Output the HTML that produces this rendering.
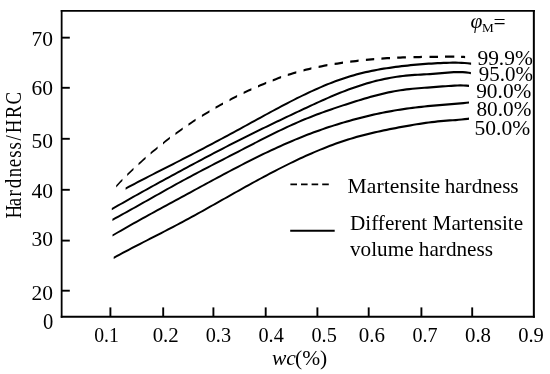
<!DOCTYPE html>
<html lang="en"><head><meta charset="utf-8"><title>Hardness vs carbon content</title>
<style>html,body{margin:0;padding:0;background:#fff}svg{display:block}</style></head>
<body>
<svg width="550" height="374" viewBox="0 0 550 374">
<rect width="550" height="374" fill="#fff"/>
<g fill="none" stroke="#000">
<path d="M61.65,317.85 V9.95" stroke-width="1.8"/>
<path d="M60.75,10.9 H534.85" stroke-width="1.9"/>
<path d="M533.85,9.95 V317.85" stroke-width="2"/>
<path d="M534.85,316.85 H60.75" stroke-width="2"/>
</g>
<g fill="none" stroke="#000" stroke-width="1.9">
<path d="M62,37.66 H69.8"/>
<path d="M62,87.8 H69.8"/>
<path d="M62,138.8 H69.8"/>
<path d="M62,189.8 H69.8"/>
<path d="M62,240.6 H69.8"/>
<path d="M62,290.7 H69.8"/>
<path d="M110.4,316.3 V307.4"/>
<path d="M163.2,316.3 V307.4"/>
<path d="M213.4,316.3 V307.4"/>
<path d="M265.7,316.3 V307.4"/>
<path d="M317.4,316.3 V307.4"/>
<path d="M368.7,316.3 V307.4"/>
<path d="M421.4,316.3 V307.4"/>
<path d="M472.2,316.3 V307.4"/>
</g>
<g fill="#000" stroke="none">
<path d="M125.6,187.44 L128.6,185.84 L131.6,184.26 L134.6,182.68 L137.6,181.11 L140.6,179.55 L143.6,178.00 L146.6,176.45 L149.6,174.91 L152.6,173.38 L155.6,171.85 L158.6,170.32 L161.6,168.79 L164.6,167.27 L167.6,165.74 L170.6,164.22 L173.6,162.69 L176.6,161.16 L179.6,159.63 L182.6,158.09 L185.6,156.55 L188.6,155.00 L191.6,153.45 L194.6,151.89 L197.6,150.33 L200.6,148.76 L203.6,147.19 L206.6,145.62 L209.6,144.04 L212.6,142.45 L215.6,140.86 L218.6,139.26 L221.6,137.66 L224.6,136.06 L227.6,134.45 L230.6,132.83 L233.6,131.21 L236.6,129.58 L239.6,127.94 L242.6,126.31 L245.6,124.66 L248.6,123.02 L251.6,121.37 L254.6,119.72 L257.6,118.07 L260.6,116.43 L263.6,114.79 L266.6,113.15 L269.6,111.52 L272.6,109.90 L275.6,108.29 L278.6,106.68 L281.6,105.09 L284.6,103.52 L287.6,101.95 L290.6,100.41 L293.6,98.88 L296.6,97.37 L299.6,95.88 L302.6,94.41 L305.6,92.96 L308.6,91.54 L311.6,90.15 L314.6,88.78 L317.6,87.44 L320.6,86.13 L323.6,84.85 L326.6,83.61 L329.6,82.40 L332.6,81.23 L335.6,80.10 L338.6,79.00 L341.6,77.95 L344.6,76.94 L347.6,75.97 L350.6,75.05 L353.6,74.18 L356.6,73.35 L359.6,72.56 L362.6,71.81 L365.6,71.11 L368.6,70.44 L371.6,69.81 L374.6,69.21 L377.6,68.65 L380.6,68.11 L383.6,67.61 L386.6,67.13 L389.6,66.68 L392.6,66.26 L395.6,65.85 L398.6,65.47 L401.6,65.11 L404.6,64.76 L407.6,64.43 L410.6,64.12 L413.6,63.83 L416.6,63.56 L419.6,63.30 L422.6,63.06 L425.6,62.83 L428.6,62.62 L431.6,62.43 L434.6,62.25 L437.6,62.09 L440.6,61.94 L443.6,61.81 L446.6,61.71 L449.6,61.63 L452.6,61.59 L455.6,61.59 L458.6,61.64 L461.6,61.75 L464.6,61.92 L467.6,62.16 L470.6,62.48 L471.1,62.54 L471.1,64.74 L470.6,64.68 L467.6,64.36 L464.6,64.12 L461.6,63.95 L458.6,63.84 L455.6,63.79 L452.6,63.79 L449.6,63.83 L446.6,63.91 L443.6,64.01 L440.6,64.14 L437.6,64.29 L434.6,64.45 L431.6,64.63 L428.6,64.82 L425.6,65.03 L422.6,65.26 L419.6,65.50 L416.6,65.76 L413.6,66.03 L410.6,66.32 L407.6,66.63 L404.6,66.96 L401.6,67.31 L398.6,67.67 L395.6,68.05 L392.6,68.46 L389.6,68.88 L386.6,69.33 L383.6,69.81 L380.6,70.31 L377.6,70.85 L374.6,71.41 L371.6,72.01 L368.6,72.64 L365.6,73.31 L362.6,74.01 L359.6,74.76 L356.6,75.55 L353.6,76.38 L350.6,77.25 L347.6,78.17 L344.6,79.14 L341.6,80.15 L338.6,81.20 L335.6,82.30 L332.6,83.43 L329.6,84.60 L326.6,85.81 L323.6,87.05 L320.6,88.33 L317.6,89.64 L314.6,90.98 L311.6,92.35 L308.6,93.74 L305.6,95.16 L302.6,96.61 L299.6,98.08 L296.6,99.57 L293.6,101.08 L290.6,102.61 L287.6,104.15 L284.6,105.72 L281.6,107.29 L278.6,108.88 L275.6,110.49 L272.6,112.10 L269.6,113.72 L266.6,115.35 L263.6,116.99 L260.6,118.63 L257.6,120.27 L254.6,121.92 L251.6,123.57 L248.6,125.22 L245.6,126.86 L242.6,128.51 L239.6,130.14 L236.6,131.78 L233.6,133.41 L230.6,135.03 L227.6,136.65 L224.6,138.26 L221.6,139.86 L218.6,141.46 L215.6,143.06 L212.6,144.65 L209.6,146.24 L206.6,147.82 L203.6,149.39 L200.6,150.96 L197.6,152.53 L194.6,154.09 L191.6,155.65 L188.6,157.20 L185.6,158.75 L182.6,160.29 L179.6,161.83 L176.6,163.36 L173.6,164.89 L170.6,166.42 L167.6,167.94 L164.6,169.47 L161.6,170.99 L158.6,172.52 L155.6,174.05 L152.6,175.58 L149.6,177.11 L146.6,178.65 L143.6,180.20 L140.6,181.75 L137.6,183.31 L134.6,184.88 L131.6,186.46 L128.6,188.04 L125.6,189.64Z"/>
<path d="M111.8,208.07 L114.8,206.34 L117.8,204.61 L120.8,202.90 L123.8,201.19 L126.8,199.48 L129.8,197.78 L132.8,196.09 L135.8,194.41 L138.8,192.73 L141.8,191.05 L144.8,189.38 L147.8,187.72 L150.8,186.06 L153.8,184.40 L156.8,182.75 L159.8,181.11 L162.8,179.47 L165.8,177.83 L168.8,176.19 L171.8,174.56 L174.8,172.94 L177.8,171.31 L180.8,169.69 L183.8,168.07 L186.8,166.46 L189.8,164.85 L192.8,163.24 L195.8,161.64 L198.8,160.04 L201.8,158.44 L204.8,156.85 L207.8,155.27 L210.8,153.69 L213.8,152.11 L216.8,150.55 L219.8,148.98 L222.8,147.43 L225.8,145.88 L228.8,144.34 L231.8,142.80 L234.8,141.27 L237.8,139.75 L240.8,138.24 L243.8,136.73 L246.8,135.24 L249.8,133.75 L252.8,132.26 L255.8,130.79 L258.8,129.32 L261.8,127.86 L264.8,126.40 L267.8,124.95 L270.8,123.50 L273.8,122.06 L276.8,120.62 L279.8,119.19 L282.8,117.76 L285.8,116.33 L288.8,114.91 L291.8,113.49 L294.8,112.07 L297.8,110.66 L300.8,109.25 L303.8,107.84 L306.8,106.43 L309.8,105.03 L312.8,103.64 L315.8,102.26 L318.8,100.89 L321.8,99.54 L324.8,98.21 L327.8,96.89 L330.8,95.59 L333.8,94.32 L336.8,93.07 L339.8,91.84 L342.8,90.65 L345.8,89.49 L348.8,88.35 L351.8,87.26 L354.8,86.20 L357.8,85.18 L360.8,84.19 L363.8,83.25 L366.8,82.34 L369.8,81.48 L372.8,80.66 L375.8,79.87 L378.8,79.14 L381.8,78.44 L384.8,77.80 L387.8,77.19 L390.8,76.64 L393.8,76.13 L396.8,75.67 L399.8,75.27 L402.8,74.91 L405.8,74.59 L408.8,74.32 L411.8,74.07 L414.8,73.86 L417.8,73.66 L420.8,73.47 L423.8,73.30 L426.8,73.13 L429.8,72.95 L432.8,72.76 L435.8,72.55 L438.8,72.32 L441.8,72.07 L444.8,71.79 L447.8,71.52 L450.8,71.28 L453.8,71.08 L456.8,70.96 L459.8,70.93 L462.8,71.03 L465.8,71.26 L468.8,71.65 L470.9,72.03 L470.9,74.23 L468.8,73.85 L465.8,73.46 L462.8,73.23 L459.8,73.13 L456.8,73.16 L453.8,73.28 L450.8,73.48 L447.8,73.72 L444.8,73.99 L441.8,74.27 L438.8,74.52 L435.8,74.75 L432.8,74.96 L429.8,75.15 L426.8,75.33 L423.8,75.50 L420.8,75.67 L417.8,75.86 L414.8,76.06 L411.8,76.27 L408.8,76.52 L405.8,76.79 L402.8,77.11 L399.8,77.47 L396.8,77.87 L393.8,78.33 L390.8,78.84 L387.8,79.39 L384.8,80.00 L381.8,80.64 L378.8,81.34 L375.8,82.07 L372.8,82.86 L369.8,83.68 L366.8,84.54 L363.8,85.45 L360.8,86.39 L357.8,87.38 L354.8,88.40 L351.8,89.46 L348.8,90.55 L345.8,91.69 L342.8,92.85 L339.8,94.04 L336.8,95.27 L333.8,96.52 L330.8,97.79 L327.8,99.09 L324.8,100.41 L321.8,101.74 L318.8,103.09 L315.8,104.46 L312.8,105.84 L309.8,107.23 L306.8,108.63 L303.8,110.04 L300.8,111.45 L297.8,112.86 L294.8,114.27 L291.8,115.69 L288.8,117.11 L285.8,118.53 L282.8,119.96 L279.8,121.39 L276.8,122.82 L273.8,124.26 L270.8,125.70 L267.8,127.15 L264.8,128.60 L261.8,130.06 L258.8,131.52 L255.8,132.99 L252.8,134.46 L249.8,135.95 L246.8,137.44 L243.8,138.93 L240.8,140.44 L237.8,141.95 L234.8,143.47 L231.8,145.00 L228.8,146.54 L225.8,148.08 L222.8,149.63 L219.8,151.18 L216.8,152.75 L213.8,154.31 L210.8,155.89 L207.8,157.47 L204.8,159.05 L201.8,160.64 L198.8,162.24 L195.8,163.84 L192.8,165.44 L189.8,167.05 L186.8,168.66 L183.8,170.27 L180.8,171.89 L177.8,173.51 L174.8,175.14 L171.8,176.76 L168.8,178.39 L165.8,180.03 L162.8,181.67 L159.8,183.31 L156.8,184.95 L153.8,186.60 L150.8,188.26 L147.8,189.92 L144.8,191.58 L141.8,193.25 L138.8,194.93 L135.8,196.61 L132.8,198.29 L129.8,199.98 L126.8,201.68 L123.8,203.39 L120.8,205.10 L117.8,206.81 L114.8,208.54 L111.8,210.27Z"/>
<path d="M112.4,218.71 L115.4,217.10 L118.4,215.47 L121.4,213.82 L124.4,212.17 L127.4,210.51 L130.4,208.84 L133.4,207.16 L136.4,205.48 L139.4,203.79 L142.4,202.10 L145.4,200.41 L148.4,198.71 L151.4,197.01 L154.4,195.32 L157.4,193.63 L160.4,191.93 L163.4,190.25 L166.4,188.57 L169.4,186.89 L172.4,185.22 L175.4,183.56 L178.4,181.91 L181.4,180.28 L184.4,178.65 L187.4,177.03 L190.4,175.43 L193.4,173.83 L196.4,172.24 L199.4,170.66 L202.4,169.08 L205.4,167.51 L208.4,165.95 L211.4,164.39 L214.4,162.84 L217.4,161.28 L220.4,159.74 L223.4,158.19 L226.4,156.64 L229.4,155.10 L232.4,153.55 L235.4,152.00 L238.4,150.45 L241.4,148.90 L244.4,147.35 L247.4,145.79 L250.4,144.24 L253.4,142.69 L256.4,141.15 L259.4,139.61 L262.4,138.07 L265.4,136.55 L268.4,135.04 L271.4,133.54 L274.4,132.06 L277.4,130.59 L280.4,129.14 L283.4,127.70 L286.4,126.29 L289.4,124.90 L292.4,123.54 L295.4,122.20 L298.4,120.89 L301.4,119.61 L304.4,118.35 L307.4,117.13 L310.4,115.93 L313.4,114.76 L316.4,113.61 L319.4,112.49 L322.4,111.38 L325.4,110.30 L328.4,109.24 L331.4,108.19 L334.4,107.16 L337.4,106.15 L340.4,105.15 L343.4,104.16 L346.4,103.19 L349.4,102.22 L352.4,101.27 L355.4,100.32 L358.4,99.39 L361.4,98.47 L364.4,97.58 L367.4,96.70 L370.4,95.85 L373.4,95.02 L376.4,94.22 L379.4,93.46 L382.4,92.72 L385.4,92.02 L388.4,91.36 L391.4,90.74 L394.4,90.17 L397.4,89.64 L400.4,89.15 L403.4,88.72 L406.4,88.33 L409.4,87.98 L412.4,87.67 L415.4,87.39 L418.4,87.13 L421.4,86.89 L424.4,86.67 L427.4,86.46 L430.4,86.25 L433.4,86.04 L436.4,85.83 L439.4,85.61 L442.4,85.37 L445.4,85.13 L448.4,84.90 L451.4,84.69 L454.4,84.53 L457.4,84.41 L460.4,84.36 L463.4,84.39 L466.4,84.51 L469.0,84.70 L469.0,86.90 L466.4,86.71 L463.4,86.59 L460.4,86.56 L457.4,86.61 L454.4,86.73 L451.4,86.89 L448.4,87.10 L445.4,87.33 L442.4,87.57 L439.4,87.81 L436.4,88.03 L433.4,88.24 L430.4,88.45 L427.4,88.66 L424.4,88.87 L421.4,89.09 L418.4,89.33 L415.4,89.59 L412.4,89.87 L409.4,90.18 L406.4,90.53 L403.4,90.92 L400.4,91.35 L397.4,91.84 L394.4,92.37 L391.4,92.94 L388.4,93.56 L385.4,94.22 L382.4,94.92 L379.4,95.66 L376.4,96.42 L373.4,97.22 L370.4,98.05 L367.4,98.90 L364.4,99.78 L361.4,100.67 L358.4,101.59 L355.4,102.52 L352.4,103.47 L349.4,104.42 L346.4,105.39 L343.4,106.36 L340.4,107.35 L337.4,108.35 L334.4,109.36 L331.4,110.39 L328.4,111.44 L325.4,112.50 L322.4,113.58 L319.4,114.69 L316.4,115.81 L313.4,116.96 L310.4,118.13 L307.4,119.33 L304.4,120.55 L301.4,121.81 L298.4,123.09 L295.4,124.40 L292.4,125.74 L289.4,127.10 L286.4,128.49 L283.4,129.90 L280.4,131.34 L277.4,132.79 L274.4,134.26 L271.4,135.74 L268.4,137.24 L265.4,138.75 L262.4,140.27 L259.4,141.81 L256.4,143.35 L253.4,144.89 L250.4,146.44 L247.4,147.99 L244.4,149.55 L241.4,151.10 L238.4,152.65 L235.4,154.20 L232.4,155.75 L229.4,157.30 L226.4,158.84 L223.4,160.39 L220.4,161.94 L217.4,163.48 L214.4,165.04 L211.4,166.59 L208.4,168.15 L205.4,169.71 L202.4,171.28 L199.4,172.86 L196.4,174.44 L193.4,176.03 L190.4,177.63 L187.4,179.23 L184.4,180.85 L181.4,182.48 L178.4,184.11 L175.4,185.76 L172.4,187.42 L169.4,189.09 L166.4,190.77 L163.4,192.45 L160.4,194.13 L157.4,195.83 L154.4,197.52 L151.4,199.21 L148.4,200.91 L145.4,202.61 L142.4,204.30 L139.4,205.99 L136.4,207.68 L133.4,209.36 L130.4,211.04 L127.4,212.71 L124.4,214.37 L121.4,216.02 L118.4,217.67 L115.4,219.30 L112.4,220.91Z"/>
<path d="M112.5,234.41 L115.5,232.65 L118.5,230.91 L121.5,229.18 L124.5,227.46 L127.5,225.75 L130.5,224.05 L133.5,222.36 L136.5,220.68 L139.5,219.01 L142.5,217.35 L145.5,215.69 L148.5,214.04 L151.5,212.39 L154.5,210.75 L157.5,209.12 L160.5,207.49 L163.5,205.85 L166.5,204.23 L169.5,202.60 L172.5,200.97 L175.5,199.35 L178.5,197.72 L181.5,196.09 L184.5,194.46 L187.5,192.82 L190.5,191.19 L193.5,189.55 L196.5,187.92 L199.5,186.29 L202.5,184.66 L205.5,183.03 L208.5,181.41 L211.5,179.78 L214.5,178.17 L217.5,176.56 L220.5,174.95 L223.5,173.35 L226.5,171.75 L229.5,170.17 L232.5,168.59 L235.5,167.02 L238.5,165.46 L241.5,163.91 L244.5,162.36 L247.5,160.83 L250.5,159.32 L253.5,157.81 L256.5,156.32 L259.5,154.84 L262.5,153.37 L265.5,151.92 L268.5,150.49 L271.5,149.07 L274.5,147.68 L277.5,146.29 L280.5,144.93 L283.5,143.59 L286.5,142.27 L289.5,140.96 L292.5,139.68 L295.5,138.42 L298.5,137.19 L301.5,135.98 L304.5,134.79 L307.5,133.62 L310.5,132.48 L313.5,131.37 L316.5,130.27 L319.5,129.20 L322.5,128.15 L325.5,127.12 L328.5,126.12 L331.5,125.13 L334.5,124.17 L337.5,123.23 L340.5,122.31 L343.5,121.41 L346.5,120.53 L349.5,119.68 L352.5,118.84 L355.5,118.02 L358.5,117.23 L361.5,116.45 L364.5,115.70 L367.5,114.97 L370.5,114.26 L373.5,113.57 L376.5,112.90 L379.5,112.26 L382.5,111.64 L385.5,111.05 L388.5,110.48 L391.5,109.93 L394.5,109.41 L397.5,108.91 L400.5,108.43 L403.5,107.98 L406.5,107.56 L409.5,107.16 L412.5,106.77 L415.5,106.41 L418.5,106.06 L421.5,105.73 L424.5,105.42 L427.5,105.12 L430.5,104.82 L433.5,104.54 L436.5,104.27 L439.5,104.01 L442.5,103.75 L445.5,103.49 L448.5,103.24 L451.5,102.99 L454.5,102.73 L457.5,102.47 L460.5,102.21 L463.5,101.94 L466.5,101.66 L469.0,101.42 L469.0,103.62 L466.5,103.86 L463.5,104.14 L460.5,104.41 L457.5,104.67 L454.5,104.93 L451.5,105.19 L448.5,105.44 L445.5,105.69 L442.5,105.95 L439.5,106.21 L436.5,106.47 L433.5,106.74 L430.5,107.02 L427.5,107.32 L424.5,107.62 L421.5,107.93 L418.5,108.26 L415.5,108.61 L412.5,108.97 L409.5,109.36 L406.5,109.76 L403.5,110.18 L400.5,110.63 L397.5,111.11 L394.5,111.61 L391.5,112.13 L388.5,112.68 L385.5,113.25 L382.5,113.84 L379.5,114.46 L376.5,115.10 L373.5,115.77 L370.5,116.46 L367.5,117.17 L364.5,117.90 L361.5,118.65 L358.5,119.43 L355.5,120.22 L352.5,121.04 L349.5,121.88 L346.5,122.73 L343.5,123.61 L340.5,124.51 L337.5,125.43 L334.5,126.37 L331.5,127.33 L328.5,128.32 L325.5,129.32 L322.5,130.35 L319.5,131.40 L316.5,132.47 L313.5,133.57 L310.5,134.68 L307.5,135.82 L304.5,136.99 L301.5,138.18 L298.5,139.39 L295.5,140.62 L292.5,141.88 L289.5,143.16 L286.5,144.47 L283.5,145.79 L280.5,147.13 L277.5,148.49 L274.5,149.88 L271.5,151.27 L268.5,152.69 L265.5,154.12 L262.5,155.57 L259.5,157.04 L256.5,158.52 L253.5,160.01 L250.5,161.52 L247.5,163.03 L244.5,164.56 L241.5,166.11 L238.5,167.66 L235.5,169.22 L232.5,170.79 L229.5,172.37 L226.5,173.95 L223.5,175.55 L220.5,177.15 L217.5,178.76 L214.5,180.37 L211.5,181.98 L208.5,183.61 L205.5,185.23 L202.5,186.86 L199.5,188.49 L196.5,190.12 L193.5,191.75 L190.5,193.39 L187.5,195.02 L184.5,196.66 L181.5,198.29 L178.5,199.92 L175.5,201.55 L172.5,203.17 L169.5,204.80 L166.5,206.43 L163.5,208.05 L160.5,209.69 L157.5,211.32 L154.5,212.95 L151.5,214.59 L148.5,216.24 L145.5,217.89 L142.5,219.55 L139.5,221.21 L136.5,222.88 L133.5,224.56 L130.5,226.25 L127.5,227.95 L124.5,229.66 L121.5,231.38 L118.5,233.11 L115.5,234.85 L112.5,236.61Z"/>
<path d="M113.7,256.72 L116.7,255.08 L119.7,253.46 L122.7,251.85 L125.7,250.26 L128.7,248.68 L131.7,247.11 L134.7,245.55 L137.7,244.00 L140.7,242.45 L143.7,240.91 L146.7,239.38 L149.7,237.84 L152.7,236.31 L155.7,234.78 L158.7,233.25 L161.7,231.71 L164.7,230.17 L167.7,228.62 L170.7,227.06 L173.7,225.50 L176.7,223.92 L179.7,222.33 L182.7,220.73 L185.7,219.11 L188.7,217.49 L191.7,215.85 L194.7,214.20 L197.7,212.55 L200.7,210.88 L203.7,209.21 L206.7,207.53 L209.7,205.85 L212.7,204.16 L215.7,202.47 L218.7,200.78 L221.7,199.08 L224.7,197.39 L227.7,195.70 L230.7,194.01 L233.7,192.32 L236.7,190.63 L239.7,188.95 L242.7,187.28 L245.7,185.61 L248.7,183.95 L251.7,182.29 L254.7,180.65 L257.7,179.02 L260.7,177.39 L263.7,175.78 L266.7,174.18 L269.7,172.59 L272.7,171.02 L275.7,169.46 L278.7,167.92 L281.7,166.39 L284.7,164.88 L287.7,163.39 L290.7,161.91 L293.7,160.46 L296.7,159.03 L299.7,157.62 L302.7,156.23 L305.7,154.86 L308.7,153.52 L311.7,152.20 L314.7,150.90 L317.7,149.64 L320.7,148.40 L323.7,147.18 L326.7,146.00 L329.7,144.84 L332.7,143.71 L335.7,142.62 L338.7,141.56 L341.7,140.52 L344.7,139.53 L347.7,138.56 L350.7,137.63 L353.7,136.73 L356.7,135.87 L359.7,135.04 L362.7,134.24 L365.7,133.47 L368.7,132.72 L371.7,132.00 L374.7,131.30 L377.7,130.63 L380.7,129.97 L383.7,129.33 L386.7,128.71 L389.7,128.10 L392.7,127.51 L395.7,126.93 L398.7,126.36 L401.7,125.80 L404.7,125.25 L407.7,124.71 L410.7,124.18 L413.7,123.67 L416.7,123.17 L419.7,122.70 L422.7,122.24 L425.7,121.81 L428.7,121.41 L431.7,121.03 L434.7,120.68 L437.7,120.36 L440.7,120.08 L443.7,119.83 L446.7,119.59 L449.7,119.37 L452.7,119.16 L455.7,118.93 L458.7,118.67 L461.7,118.39 L464.7,118.06 L467.7,117.68 L469.0,117.50 L469.0,119.70 L467.7,119.88 L464.7,120.26 L461.7,120.59 L458.7,120.87 L455.7,121.13 L452.7,121.36 L449.7,121.57 L446.7,121.79 L443.7,122.03 L440.7,122.28 L437.7,122.56 L434.7,122.88 L431.7,123.23 L428.7,123.61 L425.7,124.01 L422.7,124.44 L419.7,124.90 L416.7,125.37 L413.7,125.87 L410.7,126.38 L407.7,126.91 L404.7,127.45 L401.7,128.00 L398.7,128.56 L395.7,129.13 L392.7,129.71 L389.7,130.30 L386.7,130.91 L383.7,131.53 L380.7,132.17 L377.7,132.83 L374.7,133.50 L371.7,134.20 L368.7,134.92 L365.7,135.67 L362.7,136.44 L359.7,137.24 L356.7,138.07 L353.7,138.93 L350.7,139.83 L347.7,140.76 L344.7,141.73 L341.7,142.72 L338.7,143.76 L335.7,144.82 L332.7,145.91 L329.7,147.04 L326.7,148.20 L323.7,149.38 L320.7,150.60 L317.7,151.84 L314.7,153.10 L311.7,154.40 L308.7,155.72 L305.7,157.06 L302.7,158.43 L299.7,159.82 L296.7,161.23 L293.7,162.66 L290.7,164.11 L287.7,165.59 L284.7,167.08 L281.7,168.59 L278.7,170.12 L275.7,171.66 L272.7,173.22 L269.7,174.79 L266.7,176.38 L263.7,177.98 L260.7,179.59 L257.7,181.22 L254.7,182.85 L251.7,184.49 L248.7,186.15 L245.7,187.81 L242.7,189.48 L239.7,191.15 L236.7,192.83 L233.7,194.52 L230.7,196.21 L227.7,197.90 L224.7,199.59 L221.7,201.28 L218.7,202.98 L215.7,204.67 L212.7,206.36 L209.7,208.05 L206.7,209.73 L203.7,211.41 L200.7,213.08 L197.7,214.75 L194.7,216.40 L191.7,218.05 L188.7,219.69 L185.7,221.31 L182.7,222.93 L179.7,224.53 L176.7,226.12 L173.7,227.70 L170.7,229.26 L167.7,230.82 L164.7,232.37 L161.7,233.91 L158.7,235.45 L155.7,236.98 L152.7,238.51 L149.7,240.04 L146.7,241.58 L143.7,243.11 L140.7,244.65 L137.7,246.20 L134.7,247.75 L131.7,249.31 L128.7,250.88 L125.7,252.46 L122.7,254.05 L119.7,255.66 L116.7,257.28 L113.7,258.92Z"/>
</g>
<g fill="#000" stroke="none">
<path d="M116.2,185.14 L118.3,182.96 L120.3,180.81 L122.4,178.69 L122.4,180.94 L120.3,183.06 L118.3,185.21 L116.2,187.39Z"/>
<path d="M127.2,173.87 L129.3,171.80 L131.4,169.76 L133.5,167.75 L133.5,170.00 L131.4,172.01 L129.3,174.05 L127.2,176.12Z"/>
<path d="M138.5,163.07 L140.9,160.90 L143.2,158.77 L145.6,156.67 L145.6,158.92 L143.2,161.02 L140.9,163.15 L138.5,165.32Z"/>
<path d="M150.6,152.33 L152.9,150.35 L155.3,148.40 L157.6,146.48 L157.6,148.73 L155.3,150.65 L152.9,152.60 L150.6,154.58Z"/>
<path d="M163.0,142.14 L165.3,140.34 L167.6,138.56 L169.9,136.80 L169.9,139.05 L167.6,140.81 L165.3,142.59 L163.0,144.39Z"/>
<path d="M175.4,132.71 L177.8,130.94 L180.3,129.19 L182.7,127.47 L182.7,129.72 L180.3,131.44 L177.8,133.19 L175.4,134.96Z"/>
<path d="M188.4,123.54 L190.8,121.93 L193.2,120.34 L195.6,118.77 L195.6,121.02 L193.2,122.59 L190.8,124.18 L188.4,125.79Z"/>
<path d="M201.9,114.76 L204.4,113.19 L207.0,111.65 L209.5,110.13 L209.5,112.38 L207.0,113.90 L204.4,115.44 L201.9,117.01Z"/>
<path d="M215.5,106.62 L218.0,105.20 L220.5,103.80 L223.0,102.41 L223.0,104.66 L220.5,106.05 L218.0,107.45 L215.5,108.87Z"/>
<path d="M229.5,98.92 L232.0,97.60 L234.6,96.30 L237.1,95.02 L237.1,97.27 L234.6,98.55 L232.0,99.85 L229.5,101.17Z"/>
<path d="M243.6,91.82 L246.2,90.58 L248.8,89.36 L251.4,88.16 L251.4,90.41 L248.8,91.61 L246.2,92.83 L243.6,94.07Z"/>
<path d="M258.0,85.22 L260.7,84.04 L263.5,82.89 L266.2,81.77 L266.2,84.02 L263.5,85.14 L260.7,86.29 L258.0,87.47Z"/>
<path d="M272.7,79.21 L275.5,78.15 L278.3,77.12 L281.1,76.12 L281.1,78.37 L278.3,79.37 L275.5,80.40 L272.7,81.46Z"/>
<path d="M287.8,73.86 L290.6,72.96 L293.5,72.08 L296.3,71.24 L296.3,73.49 L293.5,74.33 L290.6,75.21 L287.8,76.11Z"/>
<path d="M303.5,69.26 L306.1,68.59 L308.8,67.94 L311.4,67.32 L311.4,69.57 L308.8,70.19 L306.1,70.84 L303.5,71.51Z"/>
<path d="M318.6,65.75 L321.5,65.16 L324.5,64.60 L327.4,64.06 L327.4,66.31 L324.5,66.85 L321.5,67.41 L318.6,68.00Z"/>
<path d="M334.6,62.85 L337.4,62.41 L340.2,61.99 L343.0,61.59 L343.0,63.84 L340.2,64.24 L337.4,64.66 L334.6,65.10Z"/>
<path d="M350.2,60.62 L353.0,60.27 L355.8,59.94 L358.6,59.61 L358.6,61.86 L355.8,62.19 L353.0,62.52 L350.2,62.87Z"/>
<path d="M365.9,58.84 L368.7,58.57 L371.4,58.31 L374.2,58.06 L374.2,60.31 L371.4,60.56 L368.7,60.82 L365.9,61.09Z"/>
<path d="M381.4,57.49 L384.3,57.29 L387.1,57.10 L390.0,56.92 L390.0,59.17 L387.1,59.35 L384.3,59.54 L381.4,59.74Z"/>
<path d="M397.2,56.55 L400.1,56.42 L403.0,56.31 L405.9,56.21 L405.9,58.46 L403.0,58.56 L400.1,58.67 L397.2,58.80Z"/>
<path d="M413.5,56.01 L416.3,55.95 L419.1,55.90 L421.9,55.86 L421.9,58.11 L419.1,58.15 L416.3,58.20 L413.5,58.26Z"/>
<path d="M429.5,55.76 L432.3,55.73 L435.2,55.70 L438.0,55.67 L438.0,57.92 L435.2,57.95 L432.3,57.98 L429.5,58.01Z"/>
<path d="M445.0,55.60 L448.1,55.58 L451.2,55.57 L454.3,55.59 L454.3,57.84 L451.2,57.82 L448.1,57.83 L445.0,57.85Z"/>
<path d="M461.1,55.75 L462.4,55.81 L463.8,55.87 L465.1,55.95 L465.1,58.20 L463.8,58.12 L462.4,58.06 L461.1,58.00Z"/>
</g>
<path d="M290.4,184.4 H329" fill="none" stroke="#000" stroke-width="1.8" stroke-dasharray="6.6 4"/>
<path d="M290.2,230.8 H334.7" fill="none" stroke="#000" stroke-width="1.9"/>
<g font-family='"Liberation Serif", serif' font-size="21.5" fill="#000">
<text x="31.45" y="45.8" font-size="21.9" textLength="21.5" lengthAdjust="spacingAndGlyphs">70</text>
<text x="31.45" y="94.8" font-size="21.9" textLength="21.5" lengthAdjust="spacingAndGlyphs">60</text>
<text x="31.45" y="148.2" font-size="21.9" textLength="21.5" lengthAdjust="spacingAndGlyphs">50</text>
<text x="31.45" y="197.6" font-size="21.9" textLength="21.5" lengthAdjust="spacingAndGlyphs">40</text>
<text x="31.45" y="246.2" font-size="21.9" textLength="21.5" lengthAdjust="spacingAndGlyphs">30</text>
<text x="31.45" y="299.9" font-size="21.9" textLength="21.5" lengthAdjust="spacingAndGlyphs">20</text>
<text x="43.1" y="328.5" font-size="22.3" textLength="10.3" lengthAdjust="spacingAndGlyphs">0</text>
<text x="94.20" y="341.5" font-size="20.6" textLength="24.63" lengthAdjust="spacingAndGlyphs">0.1</text>
<text x="152.66" y="341.5" font-size="20.6" textLength="26.15" lengthAdjust="spacingAndGlyphs">0.2</text>
<text x="205.68" y="341.5" font-size="20.6" textLength="25.36" lengthAdjust="spacingAndGlyphs">0.3</text>
<text x="258.48" y="341.5" font-size="20.6" textLength="25.29" lengthAdjust="spacingAndGlyphs">0.4</text>
<text x="311.48" y="341.5" font-size="20.6" textLength="25.36" lengthAdjust="spacingAndGlyphs">0.5</text>
<text x="358.85" y="341.5" font-size="20.6" textLength="26.23" lengthAdjust="spacingAndGlyphs">0.6</text>
<text x="412.49" y="341.5" font-size="20.6" textLength="25.15" lengthAdjust="spacingAndGlyphs">0.7</text>
<text x="464.96" y="341.5" font-size="20.6" textLength="26.09" lengthAdjust="spacingAndGlyphs">0.8</text>
<text x="518.17" y="341.5" font-size="20.6" textLength="25.73" lengthAdjust="spacingAndGlyphs">0.9</text>
<text y="193.3" font-size="21.2"><tspan x="347.6" textLength="92.6" lengthAdjust="spacingAndGlyphs">Martensite</tspan> <tspan x="444.7" textLength="73.9" lengthAdjust="spacingAndGlyphs">hardness</tspan></text>
<text x="350" y="230.4" font-size="21.2">Different Martensite</text>
<text x="350" y="255.6" font-size="21.2">volume hardness</text>
<text x="477.4" y="64.5" font-size="21.5" textLength="55.5" lengthAdjust="spacingAndGlyphs">99.9%</text>
<text x="478.7" y="80.6" font-size="21.5" textLength="54.2" lengthAdjust="spacingAndGlyphs">95.0%</text>
<text x="476.2" y="97.9" font-size="21.5" textLength="55.2" lengthAdjust="spacingAndGlyphs">90.0%</text>
<text x="476.5" y="116.1" font-size="21.5" textLength="54.9" lengthAdjust="spacingAndGlyphs">80.0%</text>
<text x="474.5" y="134.6" font-size="21.5" textLength="55.6" lengthAdjust="spacingAndGlyphs">50.0%</text>
<text x="272" y="364.6"><tspan font-style="italic">wc</tspan><tspan dx="-0.9">(%)</tspan></text>
<text transform="translate(20.7,218.3) rotate(-90) scale(0.848,1)" font-size="22.3" x="-0.29 14.20 25.85 35.40 48.43 60.33 71.37 81.04 91.86 100.18 118.10 134.35">Hardness/HRC</text>
<text x="470.5" y="27.5"><tspan font-style="italic">φ</tspan><tspan font-size="13.2" dy="4.7" dx="-0.3">M</tspan><tspan dy="-3.7" dx="-0.4">=</tspan></text>
</g>
</svg>
</body></html>
